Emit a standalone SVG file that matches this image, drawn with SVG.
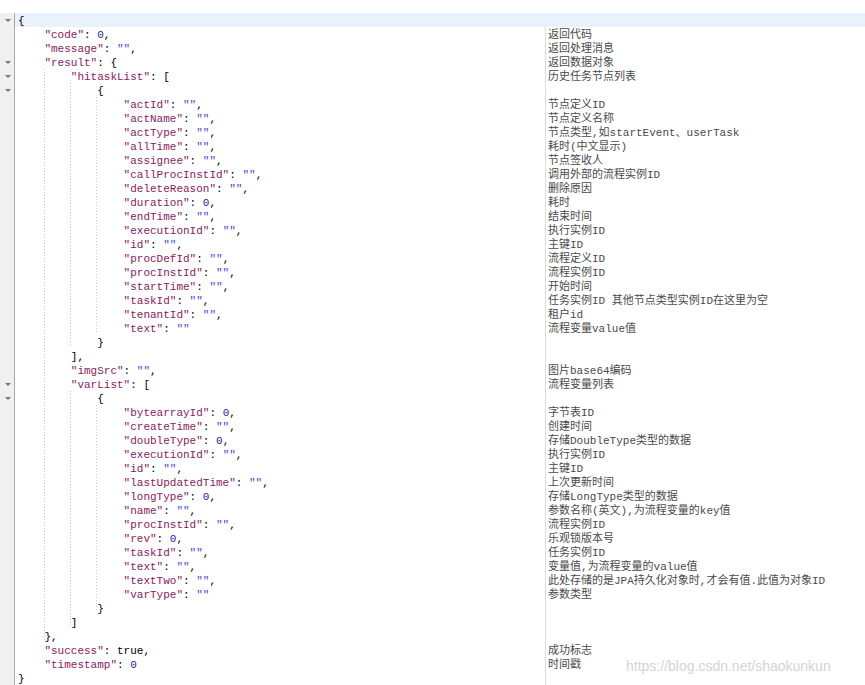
<svg xmlns="http://www.w3.org/2000/svg" width="865" height="685" viewBox="0 0 865 685">
<style>
.c{font-family:"Liberation Mono",monospace;font-size:11px;fill:#000;white-space:pre}
.k{fill:#8b1a5c}.n{fill:#1c1ca8}.s{fill:#3f3fff}
.m{font-family:"Liberation Mono","Noto Sans CJK SC",monospace;font-size:11px;fill:#4a4a4a}
.g{stroke:#c8c8c8;stroke-dasharray:1 2;stroke-width:1}
.f{fill:#777}
</style>
<rect width="865" height="685" fill="#fff"/>
<rect x="0" y="13" width="865" height="14" fill="#e8f1fc"/>
<rect x="0" y="13" width="14" height="672" fill="#f0f0f0"/>
<line x1="14.5" y1="13" x2="14.5" y2="685" stroke="#aaa"/>
<line x1="545.5" y1="27" x2="545.5" y2="685" stroke="#ddd"/>
<g id="guides">
<line class="g" x1="44.5" y1="69" x2="44.5" y2="640"/>
<line class="g" x1="70.5" y1="83" x2="70.5" y2="346"/>
<line class="g" x1="96.5" y1="97" x2="96.5" y2="332"/>
<line class="g" x1="70.5" y1="391" x2="70.5" y2="626"/>
<line class="g" x1="96.5" y1="405" x2="96.5" y2="612"/>
</g>
<g id="folds" class="f">
<path d="M5 19h6l-3 3z"/><path d="M5 61h6l-3 3z"/><path d="M5 75h6l-3 3z"/><path d="M5 89h6l-3 3z"/><path d="M5 383h6l-3 3z"/><path d="M5 397h6l-3 3z"/>
</g>
<g id="code" class="c">
<text x="18" y="24">{</text>
<text x="44.4" y="38"><tspan class="k">"code"</tspan>: <tspan class="n">0</tspan>,</text>
<text x="44.4" y="52"><tspan class="k">"message"</tspan>: <tspan class="s">""</tspan>,</text>
<text x="44.4" y="66"><tspan class="k">"result"</tspan>: {</text>
<text x="70.8" y="80"><tspan class="k">"hitaskList"</tspan>: [</text>
<text x="97.2" y="94">{</text>
<text x="123.6" y="108"><tspan class="k">"actId"</tspan>: <tspan class="s">""</tspan>,</text>
<text x="123.6" y="122"><tspan class="k">"actName"</tspan>: <tspan class="s">""</tspan>,</text>
<text x="123.6" y="136"><tspan class="k">"actType"</tspan>: <tspan class="s">""</tspan>,</text>
<text x="123.6" y="150"><tspan class="k">"allTime"</tspan>: <tspan class="s">""</tspan>,</text>
<text x="123.6" y="164"><tspan class="k">"assignee"</tspan>: <tspan class="s">""</tspan>,</text>
<text x="123.6" y="178"><tspan class="k">"callProcInstId"</tspan>: <tspan class="s">""</tspan>,</text>
<text x="123.6" y="192"><tspan class="k">"deleteReason"</tspan>: <tspan class="s">""</tspan>,</text>
<text x="123.6" y="206"><tspan class="k">"duration"</tspan>: <tspan class="n">0</tspan>,</text>
<text x="123.6" y="220"><tspan class="k">"endTime"</tspan>: <tspan class="s">""</tspan>,</text>
<text x="123.6" y="234"><tspan class="k">"executionId"</tspan>: <tspan class="s">""</tspan>,</text>
<text x="123.6" y="248"><tspan class="k">"id"</tspan>: <tspan class="s">""</tspan>,</text>
<text x="123.6" y="262"><tspan class="k">"procDefId"</tspan>: <tspan class="s">""</tspan>,</text>
<text x="123.6" y="276"><tspan class="k">"procInstId"</tspan>: <tspan class="s">""</tspan>,</text>
<text x="123.6" y="290"><tspan class="k">"startTime"</tspan>: <tspan class="s">""</tspan>,</text>
<text x="123.6" y="304"><tspan class="k">"taskId"</tspan>: <tspan class="s">""</tspan>,</text>
<text x="123.6" y="318"><tspan class="k">"tenantId"</tspan>: <tspan class="s">""</tspan>,</text>
<text x="123.6" y="332"><tspan class="k">"text"</tspan>: <tspan class="s">""</tspan></text>
<text x="97.2" y="346">}</text>
<text x="70.8" y="360">],</text>
<text x="70.8" y="374"><tspan class="k">"imgSrc"</tspan>: <tspan class="s">""</tspan>,</text>
<text x="70.8" y="388"><tspan class="k">"varList"</tspan>: [</text>
<text x="97.2" y="402">{</text>
<text x="123.6" y="416"><tspan class="k">"bytearrayId"</tspan>: <tspan class="n">0</tspan>,</text>
<text x="123.6" y="430"><tspan class="k">"createTime"</tspan>: <tspan class="s">""</tspan>,</text>
<text x="123.6" y="444"><tspan class="k">"doubleType"</tspan>: <tspan class="n">0</tspan>,</text>
<text x="123.6" y="458"><tspan class="k">"executionId"</tspan>: <tspan class="s">""</tspan>,</text>
<text x="123.6" y="472"><tspan class="k">"id"</tspan>: <tspan class="s">""</tspan>,</text>
<text x="123.6" y="486"><tspan class="k">"lastUpdatedTime"</tspan>: <tspan class="s">""</tspan>,</text>
<text x="123.6" y="500"><tspan class="k">"longType"</tspan>: <tspan class="n">0</tspan>,</text>
<text x="123.6" y="514"><tspan class="k">"name"</tspan>: <tspan class="s">""</tspan>,</text>
<text x="123.6" y="528"><tspan class="k">"procInstId"</tspan>: <tspan class="s">""</tspan>,</text>
<text x="123.6" y="542"><tspan class="k">"rev"</tspan>: <tspan class="n">0</tspan>,</text>
<text x="123.6" y="556"><tspan class="k">"taskId"</tspan>: <tspan class="s">""</tspan>,</text>
<text x="123.6" y="570"><tspan class="k">"text"</tspan>: <tspan class="s">""</tspan>,</text>
<text x="123.6" y="584"><tspan class="k">"textTwo"</tspan>: <tspan class="s">""</tspan>,</text>
<text x="123.6" y="598"><tspan class="k">"varType"</tspan>: <tspan class="s">""</tspan></text>
<text x="97.2" y="612">}</text>
<text x="70.8" y="626">]</text>
<text x="44.4" y="640">},</text>
<text x="44.4" y="654"><tspan class="k">"success"</tspan>: true,</text>
<text x="44.4" y="668"><tspan class="k">"timestamp"</tspan>: <tspan class="n">0</tspan></text>
<text x="18" y="682">}</text>
</g>
<g id="comments" class="m">
<text x="548" y="38">返回代码</text>
<text x="548" y="52">返回处理消息</text>
<text x="548" y="66">返回数据对象</text>
<text x="548" y="80">历史任务节点列表</text>
<text x="548" y="108">节点定义ID</text>
<text x="548" y="122">节点定义名称</text>
<text x="548" y="136">节点类型,如startEvent、userTask</text>
<text x="548" y="150">耗时(中文显示)</text>
<text x="548" y="164">节点签收人</text>
<text x="548" y="178">调用外部的流程实例ID</text>
<text x="548" y="192">删除原因</text>
<text x="548" y="206">耗时</text>
<text x="548" y="220">结束时间</text>
<text x="548" y="234">执行实例ID</text>
<text x="548" y="248">主键ID</text>
<text x="548" y="262">流程定义ID</text>
<text x="548" y="276">流程实例ID</text>
<text x="548" y="290">开始时间</text>
<text x="548" y="304">任务实例ID 其他节点类型实例ID在这里为空</text>
<text x="548" y="318">租户id</text>
<text x="548" y="332">流程变量value值</text>
<text x="548" y="374">图片base64编码</text>
<text x="548" y="388">流程变量列表</text>
<text x="548" y="416">字节表ID</text>
<text x="548" y="430">创建时间</text>
<text x="548" y="444">存储DoubleType类型的数据</text>
<text x="548" y="458">执行实例ID</text>
<text x="548" y="472">主键ID</text>
<text x="548" y="486">上次更新时间</text>
<text x="548" y="500">存储LongType类型的数据</text>
<text x="548" y="514">参数名称(英文),为流程变量的key值</text>
<text x="548" y="528">流程实例ID</text>
<text x="548" y="542">乐观锁版本号</text>
<text x="548" y="556">任务实例ID</text>
<text x="548" y="570">变量值,为流程变量的value值</text>
<text x="548" y="584">此处存储的是JPA持久化对象时,才会有值.此值为对象ID</text>
<text x="548" y="598">参数类型</text>
<text x="548" y="654">成功标志</text>
<text x="548" y="668">时间戳</text>
</g>
<text x="626" y="671" font-family="Liberation Sans,sans-serif" font-size="14" fill="#d4d4d4">https://blog.csdn.net/shaokunkun</text>
</svg>
